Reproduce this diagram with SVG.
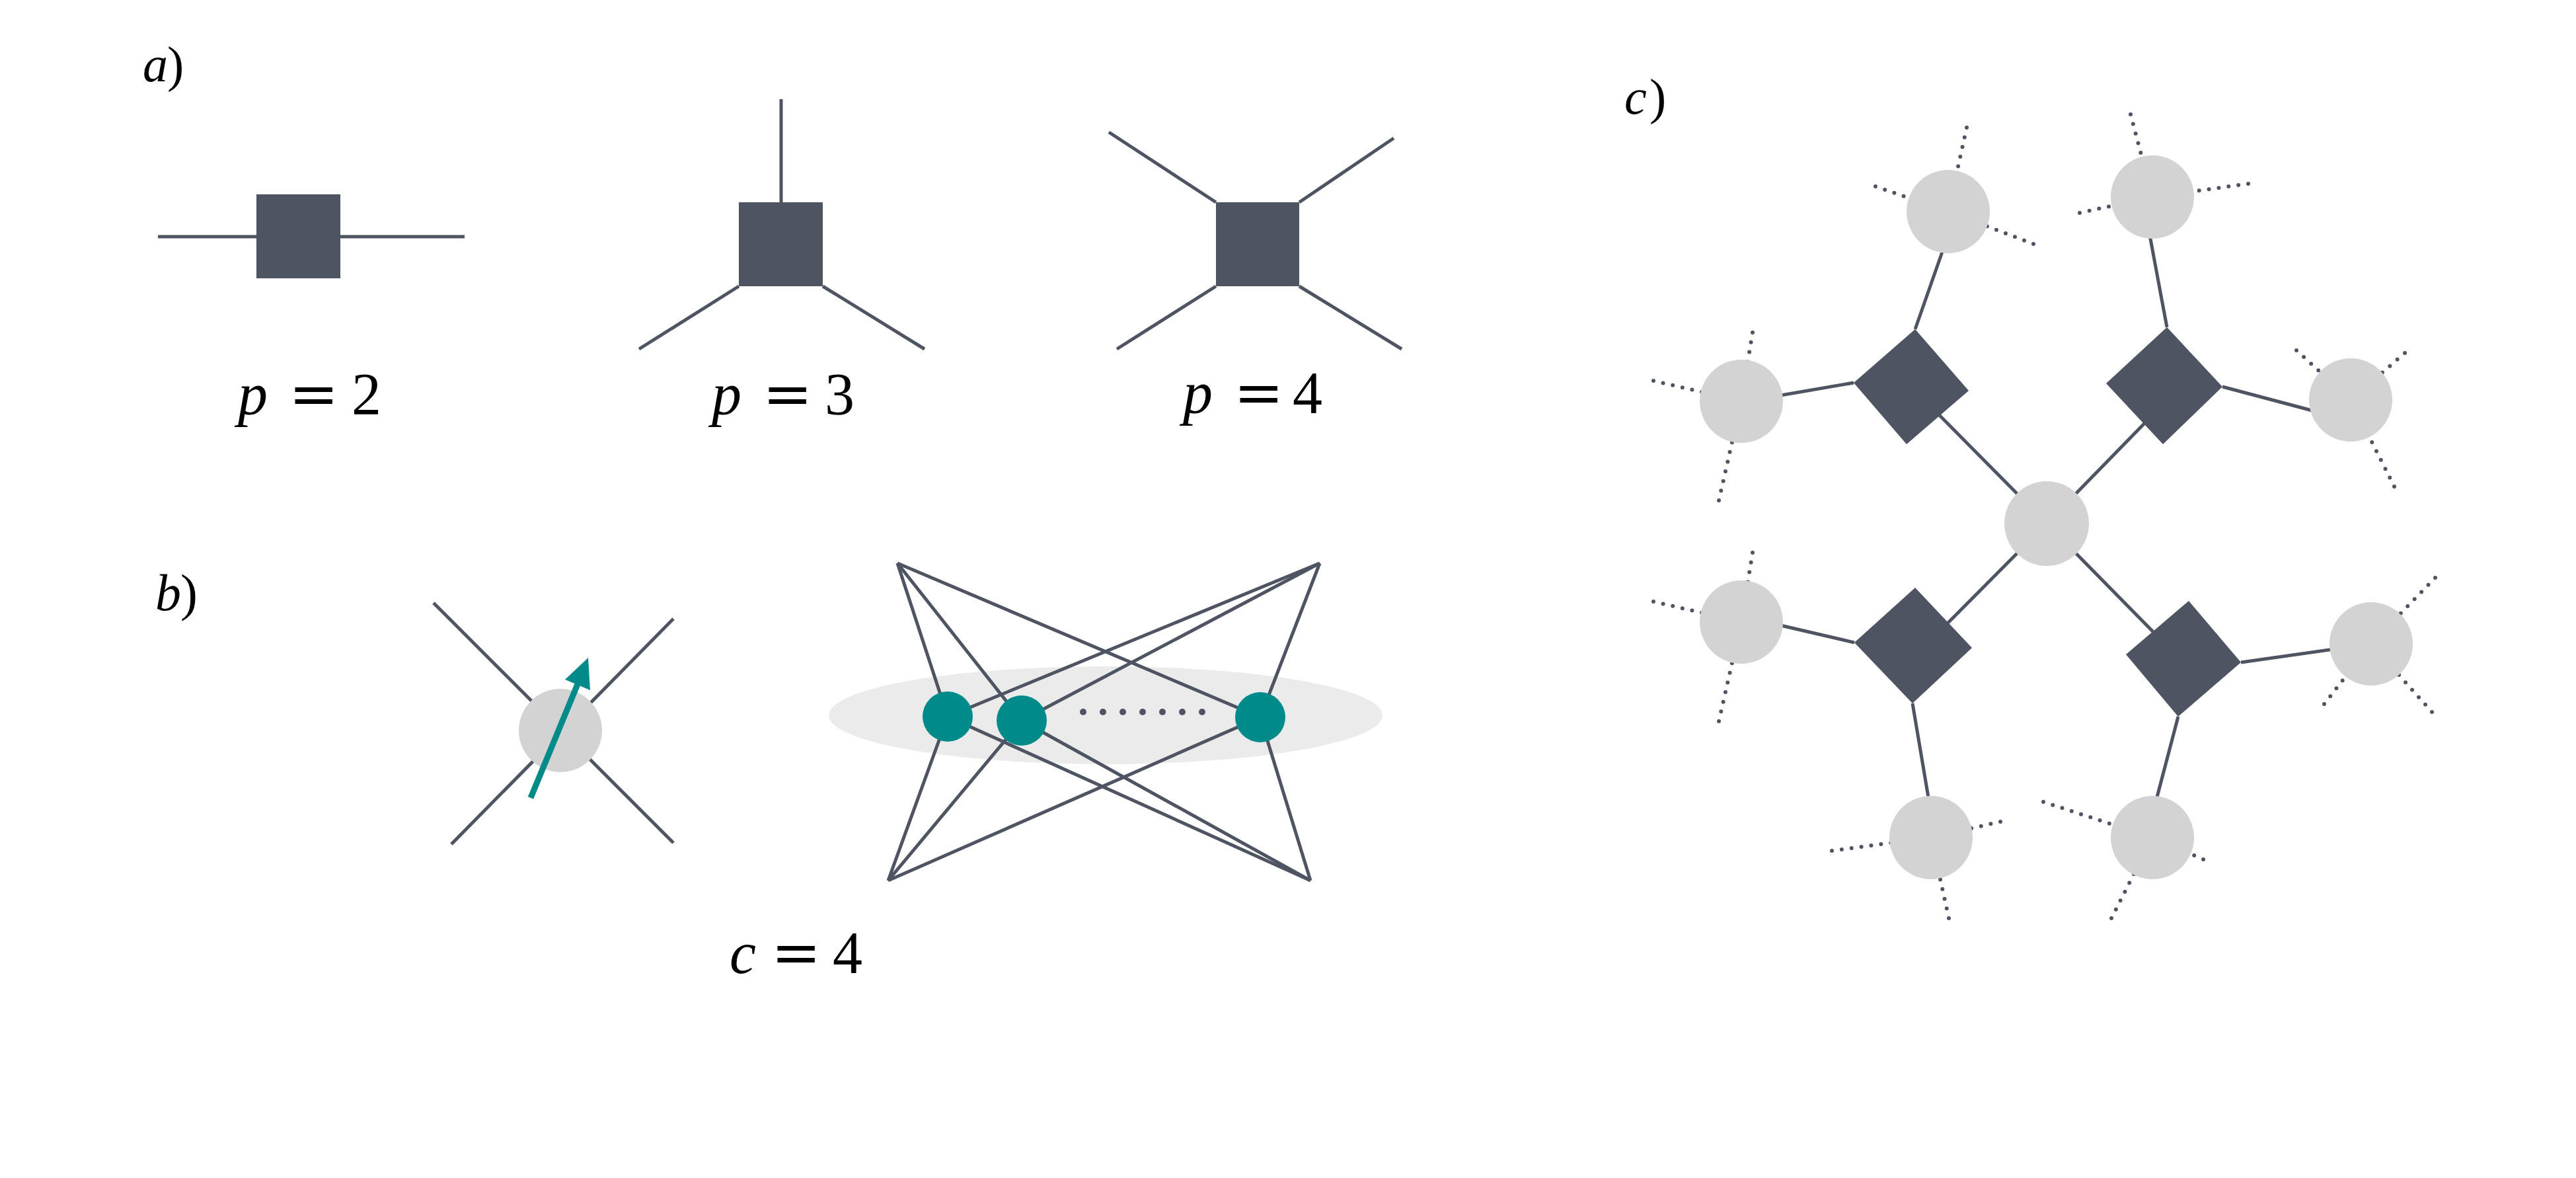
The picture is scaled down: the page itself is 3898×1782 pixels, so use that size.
<svg xmlns="http://www.w3.org/2000/svg" width="3898" height="1782" viewBox="0 0 3898 1782">
<style>
.bg{fill:#ffffff}
.ln{stroke:#4e5461;stroke-width:5;fill:none;stroke-linecap:butt}
.dot{stroke:#4e5461;stroke-width:6;fill:none;stroke-linecap:round;stroke-dasharray:0 15}
.ten{fill:#4e5461}
.site{fill:#d3d3d3}
.spin{fill:#008b8b}
.ens{fill:#ebebeb}
.lbl{font-family:"Liberation Serif","Times New Roman",serif;fill:#000000}
.it{font-style:italic}
.eq{font-family:"DejaVu Serif","Liberation Serif",serif}
.mdot{fill:#4e5461}
</style>
<rect class="bg" x="0" y="0" width="3898" height="1782"/>

<!-- panel labels -->
<g id="label-a"><text class="lbl" font-size="76" x="216" y="123"><tspan class="it">a</tspan><tspan x="253">)</tspan></text></g>
<g id="label-b"><text class="lbl" font-size="78" x="235" y="923"><tspan class="it">b</tspan><tspan x="273">)</tspan></text></g>
<g id="label-c"><text class="lbl" font-size="76" x="2458" y="172"><tspan class="it">c</tspan><tspan x="2496">)</tspan></text></g>

<!-- background ensemble ellipse (panel b) -->
<g id="ensemble"><ellipse class="ens" cx="1673" cy="1082" rx="419" ry="74"/></g>

<!-- connectors -->
<g id="connectors">
  <!-- panel a -->
  <line class="ln" x1="239" y1="358" x2="703" y2="358"/>
  <line class="ln" x1="1182" y1="150" x2="1182" y2="306"/>
  <line class="ln" x1="1118" y1="433" x2="967" y2="528"/>
  <line class="ln" x1="1245" y1="433" x2="1399" y2="528"/>
  <line class="ln" x1="1840" y1="306" x2="1678" y2="200"/>
  <line class="ln" x1="1966" y1="306" x2="2109" y2="209"/>
  <line class="ln" x1="1840" y1="433" x2="1690" y2="528"/>
  <line class="ln" x1="1966" y1="433" x2="2121" y2="528"/>
  <!-- panel b left -->
  <line class="ln" x1="656" y1="912" x2="1019" y2="1275"/>
  <line class="ln" x1="1019" y1="936" x2="683" y2="1277"/>
  <!-- panel b right: corners to spins -->
  <line class="ln" x1="1358" y1="852" x2="1434" y2="1084"/>
  <line class="ln" x1="1358" y1="852" x2="1546" y2="1090"/>
  <line class="ln" x1="1358" y1="852" x2="1907" y2="1085"/>
  <line class="ln" x1="1997" y1="852" x2="1434" y2="1084"/>
  <line class="ln" x1="1997" y1="852" x2="1546" y2="1090"/>
  <line class="ln" x1="1997" y1="852" x2="1907" y2="1085"/>
  <line class="ln" x1="1344" y1="1332" x2="1434" y2="1084"/>
  <line class="ln" x1="1344" y1="1332" x2="1546" y2="1090"/>
  <line class="ln" x1="1344" y1="1332" x2="1907" y2="1085"/>
  <line class="ln" x1="1983" y1="1332" x2="1434" y2="1084"/>
  <line class="ln" x1="1983" y1="1332" x2="1546" y2="1090"/>
  <line class="ln" x1="1983" y1="1332" x2="1907" y2="1085"/>
  <!-- panel c solid -->
  <line class="ln" x1="3097" y1="792" x2="2892" y2="585"/>
  <line class="ln" x1="3097" y1="792" x2="3262" y2="623"/>
  <line class="ln" x1="3097" y1="792" x2="2930" y2="960"/>
  <line class="ln" x1="3097" y1="792" x2="3280" y2="978"/>
  <line class="ln" x1="2898" y1="498" x2="2945" y2="364"/>
  <line class="ln" x1="2805" y1="579" x2="2660" y2="604"/>
  <line class="ln" x1="3279" y1="495" x2="3250" y2="340"/>
  <line class="ln" x1="3363" y1="585" x2="3510" y2="624"/>
  <line class="ln" x1="2806" y1="972" x2="2660" y2="938"/>
  <line class="ln" x1="2894" y1="1064" x2="2922" y2="1230"/>
  <line class="ln" x1="3391" y1="1002" x2="3560" y2="978"/>
  <line class="ln" x1="3296" y1="1084" x2="3255" y2="1240"/>
  <!-- panel c dotted (outer end to site centre) -->
  <line class="dot" x1="2976" y1="193" x2="2948" y2="320"/>
  <line class="dot" x1="2838" y1="282" x2="2948" y2="320"/>
  <line class="dot" x1="3077" y1="369" x2="2948" y2="320"/>
  <line class="dot" x1="3224" y1="173" x2="3257" y2="298"/>
  <line class="dot" x1="3147" y1="322" x2="3257" y2="298"/>
  <line class="dot" x1="3402" y1="278" x2="3257" y2="298"/>
  <line class="dot" x1="2652" y1="503" x2="2635" y2="607"/>
  <line class="dot" x1="2502" y1="576" x2="2635" y2="607"/>
  <line class="dot" x1="2601" y1="757" x2="2635" y2="607"/>
  <line class="dot" x1="3475" y1="530" x2="3557" y2="605"/>
  <line class="dot" x1="3639" y1="534" x2="3557" y2="605"/>
  <line class="dot" x1="3623" y1="736" x2="3557" y2="605"/>
  <line class="dot" x1="2652" y1="836" x2="2635" y2="941"/>
  <line class="dot" x1="2502" y1="910" x2="2635" y2="941"/>
  <line class="dot" x1="2601" y1="1091" x2="2635" y2="941"/>
  <line class="dot" x1="3685" y1="874" x2="3588" y2="974"/>
  <line class="dot" x1="3680" y1="1077" x2="3588" y2="974"/>
  <line class="dot" x1="3517" y1="1065" x2="3588" y2="974"/>
  <line class="dot" x1="2772" y1="1287" x2="2922" y2="1267"/>
  <line class="dot" x1="3027" y1="1243" x2="2922" y2="1267"/>
  <line class="dot" x1="2949" y1="1389" x2="2922" y2="1267"/>
  <line class="dot" x1="3092" y1="1213" x2="3257" y2="1267"/>
  <line class="dot" x1="3195" y1="1389" x2="3257" y2="1267"/>
  <line class="dot" x1="3334" y1="1300" x2="3257" y2="1267"/>
</g>

<!-- panel a tensors -->
<g id="tensor-p2"><rect class="ten" x="388" y="294" width="127" height="127"/></g>
<g id="tensor-p3"><rect class="ten" x="1118" y="306" width="127" height="127"/></g>
<g id="tensor-p4"><rect class="ten" x="1840" y="306" width="126" height="127"/></g>
<g id="label-p2"><text class="lbl" font-size="90" y="627"><tspan class="it" x="360">p</tspan><tspan class="eq" x="437">=</tspan><tspan x="532">2</tspan></text></g>
<g id="label-p3"><text class="lbl" font-size="90" y="627"><tspan class="it" x="1077">p</tspan><tspan class="eq" x="1154">=</tspan><tspan x="1248">3</tspan></text></g>
<g id="label-p4"><text class="lbl" font-size="90" y="625"><tspan class="it" x="1790">p</tspan><tspan class="eq" x="1867">=</tspan><tspan x="1956">4</tspan></text></g>

<!-- panel b left: spin site -->
<g id="site-b"><circle class="site" cx="848" cy="1105" r="63"/></g>
<g id="spin-arrow">
  <line x1="803" y1="1207" x2="874" y2="1035" stroke="#008b8b" stroke-width="9"/>
  <polygon class="spin" points="890,995 893,1044 855,1028"/>
</g>

<!-- panel b right: spins -->
<g id="spin-1"><circle class="spin" cx="1434" cy="1084" r="38"/></g>
<g id="spin-2"><circle class="spin" cx="1546" cy="1090" r="38"/></g>
<g id="spin-3"><circle class="spin" cx="1907" cy="1085" r="38"/></g>
<g id="ellipsis">
  <circle class="mdot" cx="1639" cy="1077" r="5"/>
  <circle class="mdot" cx="1669" cy="1077" r="5"/>
  <circle class="mdot" cx="1699" cy="1077" r="5"/>
  <circle class="mdot" cx="1729" cy="1077" r="5"/>
  <circle class="mdot" cx="1759" cy="1077" r="5"/>
  <circle class="mdot" cx="1789" cy="1077" r="5"/>
  <circle class="mdot" cx="1819" cy="1077" r="5"/>
</g>
<g id="label-c4"><text class="lbl" font-size="90" y="1472"><tspan class="it" x="1104">c</tspan><tspan class="eq" x="1167">=</tspan><tspan x="1260">4</tspan></text></g>

<!-- panel c nodes -->
<g id="tensor-ul"><polygon class="ten" points="2898,498 2979,591 2885,672 2805,579"/></g>
<g id="tensor-ur"><polygon class="ten" points="3279,495 3363,585 3273,672 3187,580"/></g>
<g id="tensor-ll"><polygon class="ten" points="2898,889 2984,980 2894,1064 2806,972"/></g>
<g id="tensor-lr"><polygon class="ten" points="3312,909 3391,1002 3296,1084 3217,990"/></g>
<g id="site-center"><circle class="site" cx="3097" cy="792" r="64"/></g>
<g id="site-ul-top"><circle class="site" cx="2948" cy="320" r="63"/></g>
<g id="site-ur-top"><circle class="site" cx="3257" cy="298" r="63"/></g>
<g id="site-ul-left"><circle class="site" cx="2635" cy="607" r="63"/></g>
<g id="site-ur-right"><circle class="site" cx="3557" cy="605" r="63"/></g>
<g id="site-ll-left"><circle class="site" cx="2635" cy="941" r="63"/></g>
<g id="site-lr-right"><circle class="site" cx="3588" cy="974" r="63"/></g>
<g id="site-ll-bottom"><circle class="site" cx="2922" cy="1267" r="63"/></g>
<g id="site-lr-bottom"><circle class="site" cx="3257" cy="1267" r="63"/></g>
</svg>
